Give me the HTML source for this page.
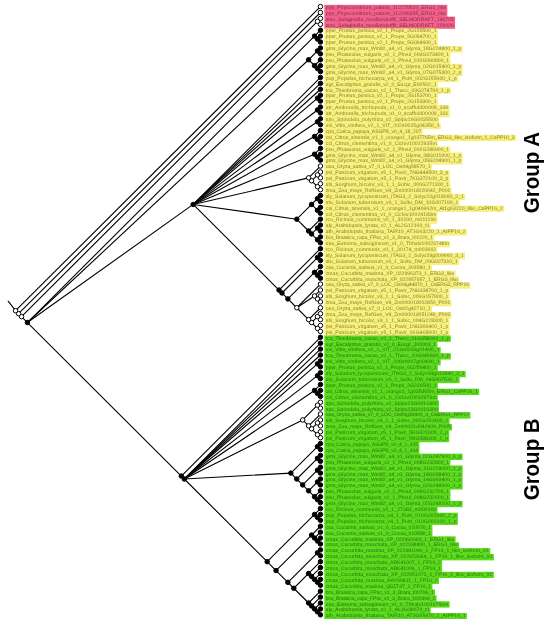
<!DOCTYPE html>
<html><head><meta charset="utf-8"><title>Phylogenetic tree</title>
<style>html,body{margin:0;padding:0;background:#fff}svg{display:block}text{font-family:"Liberation Sans",Arial,Helvetica,sans-serif}</style></head><body>
<svg width="550" height="626" viewBox="0 0 550 626">
<rect width="550" height="626" fill="#fff"/>
<g>
<rect x="324.30" y="4.80" width="123.00" height="6.31" fill="#f4608c"/>
<rect x="324.30" y="10.71" width="123.00" height="6.31" fill="#f4608c"/>
<rect x="324.30" y="16.61" width="130.80" height="6.31" fill="#f4608c"/>
<rect x="324.30" y="22.52" width="130.80" height="6.31" fill="#f4608c"/>
<rect x="324.30" y="28.42" width="113.50" height="6.31" fill="#f8f07a"/>
<rect x="324.30" y="34.33" width="113.50" height="6.31" fill="#f8f07a"/>
<rect x="324.30" y="40.23" width="113.50" height="6.31" fill="#f8f07a"/>
<rect x="324.30" y="46.14" width="138.30" height="6.31" fill="#f8f07a"/>
<rect x="324.30" y="52.05" width="126.10" height="6.31" fill="#f8f07a"/>
<rect x="324.30" y="57.95" width="126.10" height="6.31" fill="#f8f07a"/>
<rect x="324.30" y="63.86" width="138.30" height="6.31" fill="#f8f07a"/>
<rect x="324.30" y="69.76" width="138.30" height="6.31" fill="#f8f07a"/>
<rect x="324.30" y="75.67" width="133.60" height="6.31" fill="#f8f07a"/>
<rect x="324.30" y="81.58" width="113.50" height="6.31" fill="#f8f07a"/>
<rect x="324.30" y="87.48" width="126.50" height="6.31" fill="#f8f07a"/>
<rect x="324.30" y="93.39" width="113.50" height="6.31" fill="#f8f07a"/>
<rect x="324.30" y="99.29" width="113.50" height="6.31" fill="#f8f07a"/>
<rect x="324.30" y="105.20" width="125.30" height="6.31" fill="#f8f07a"/>
<rect x="324.30" y="111.10" width="125.30" height="6.31" fill="#f8f07a"/>
<rect x="324.30" y="117.01" width="114.70" height="6.31" fill="#f8f07a"/>
<rect x="324.30" y="122.92" width="116.40" height="6.31" fill="#f8f07a"/>
<rect x="324.30" y="128.82" width="98.20" height="6.31" fill="#f8f07a"/>
<rect x="324.30" y="134.73" width="191.50" height="6.31" fill="#f8f07a"/>
<rect x="324.30" y="140.63" width="113.50" height="6.31" fill="#f8f07a"/>
<rect x="324.30" y="146.54" width="126.10" height="6.31" fill="#f8f07a"/>
<rect x="324.30" y="152.44" width="138.30" height="6.31" fill="#f8f07a"/>
<rect x="324.30" y="158.35" width="138.30" height="6.31" fill="#f8f07a"/>
<rect x="324.30" y="164.26" width="107.60" height="6.31" fill="#f8f07a"/>
<rect x="324.30" y="170.16" width="125.30" height="6.31" fill="#f8f07a"/>
<rect x="324.30" y="176.07" width="125.30" height="6.31" fill="#f8f07a"/>
<rect x="324.30" y="181.97" width="126.10" height="6.31" fill="#f8f07a"/>
<rect x="324.30" y="187.88" width="127.20" height="6.31" fill="#f8f07a"/>
<rect x="324.30" y="193.78" width="140.70" height="6.31" fill="#f8f07a"/>
<rect x="324.30" y="199.69" width="135.30" height="6.31" fill="#f8f07a"/>
<rect x="324.30" y="205.60" width="179.70" height="6.31" fill="#f8f07a"/>
<rect x="324.30" y="211.50" width="113.10" height="6.31" fill="#f8f07a"/>
<rect x="324.30" y="217.41" width="113.10" height="6.31" fill="#f8f07a"/>
<rect x="324.30" y="223.31" width="106.40" height="6.31" fill="#f8f07a"/>
<rect x="324.30" y="229.22" width="142.60" height="6.31" fill="#f8f07a"/>
<rect x="324.30" y="235.13" width="110.00" height="6.31" fill="#f8f07a"/>
<rect x="324.30" y="241.03" width="125.80" height="6.31" fill="#f8f07a"/>
<rect x="324.30" y="246.94" width="113.10" height="6.31" fill="#f8f07a"/>
<rect x="324.30" y="252.84" width="140.70" height="6.31" fill="#f8f07a"/>
<rect x="324.30" y="258.75" width="134.80" height="6.31" fill="#f8f07a"/>
<rect x="324.30" y="264.65" width="107.60" height="6.31" fill="#f8f07a"/>
<rect x="324.30" y="270.56" width="131.30" height="6.31" fill="#f8f07a"/>
<rect x="324.30" y="276.47" width="134.80" height="6.31" fill="#f8f07a"/>
<rect x="324.30" y="282.37" width="145.90" height="6.31" fill="#f8f07a"/>
<rect x="324.30" y="288.28" width="125.30" height="6.31" fill="#f8f07a"/>
<rect x="324.30" y="294.18" width="125.30" height="6.31" fill="#f8f07a"/>
<rect x="324.30" y="300.09" width="127.20" height="6.31" fill="#f8f07a"/>
<rect x="324.30" y="305.99" width="107.60" height="6.31" fill="#f8f07a"/>
<rect x="324.30" y="311.90" width="127.20" height="6.31" fill="#f8f07a"/>
<rect x="324.30" y="317.81" width="125.30" height="6.31" fill="#f8f07a"/>
<rect x="324.30" y="323.71" width="125.30" height="6.31" fill="#f8f07a"/>
<rect x="324.30" y="329.62" width="125.30" height="6.31" fill="#f8f07a"/>
<rect x="324.30" y="335.52" width="126.50" height="6.31" fill="#5ada1c"/>
<rect x="324.30" y="341.43" width="113.10" height="6.31" fill="#5ada1c"/>
<rect x="324.30" y="347.33" width="116.40" height="6.31" fill="#5ada1c"/>
<rect x="324.30" y="353.24" width="126.50" height="6.31" fill="#5ada1c"/>
<rect x="324.30" y="359.15" width="116.40" height="6.31" fill="#5ada1c"/>
<rect x="324.30" y="365.05" width="113.50" height="6.31" fill="#5ada1c"/>
<rect x="324.30" y="370.96" width="141.40" height="6.31" fill="#5ada1c"/>
<rect x="324.30" y="376.86" width="135.30" height="6.31" fill="#5ada1c"/>
<rect x="324.30" y="382.77" width="113.50" height="6.31" fill="#5ada1c"/>
<rect x="324.30" y="388.68" width="154.90" height="6.31" fill="#5ada1c"/>
<rect x="324.30" y="394.58" width="113.50" height="6.31" fill="#5ada1c"/>
<rect x="324.30" y="400.49" width="114.70" height="6.31" fill="#5ada1c"/>
<rect x="324.30" y="406.39" width="114.70" height="6.31" fill="#5ada1c"/>
<rect x="324.30" y="412.30" width="146.10" height="6.31" fill="#5ada1c"/>
<rect x="324.30" y="418.20" width="125.30" height="6.31" fill="#5ada1c"/>
<rect x="324.30" y="424.11" width="127.70" height="6.31" fill="#5ada1c"/>
<rect x="324.30" y="430.02" width="124.90" height="6.31" fill="#5ada1c"/>
<rect x="324.30" y="435.92" width="124.90" height="6.31" fill="#5ada1c"/>
<rect x="324.30" y="441.83" width="95.10" height="6.31" fill="#5ada1c"/>
<rect x="324.30" y="447.73" width="95.10" height="6.31" fill="#5ada1c"/>
<rect x="324.30" y="453.64" width="138.30" height="6.31" fill="#5ada1c"/>
<rect x="324.30" y="459.54" width="126.10" height="6.31" fill="#5ada1c"/>
<rect x="324.30" y="465.45" width="138.30" height="6.31" fill="#5ada1c"/>
<rect x="324.30" y="471.36" width="138.30" height="6.31" fill="#5ada1c"/>
<rect x="324.30" y="477.26" width="138.30" height="6.31" fill="#5ada1c"/>
<rect x="324.30" y="483.17" width="138.30" height="6.31" fill="#5ada1c"/>
<rect x="324.30" y="489.07" width="126.10" height="6.31" fill="#5ada1c"/>
<rect x="324.30" y="494.98" width="126.10" height="6.31" fill="#5ada1c"/>
<rect x="324.30" y="500.88" width="138.30" height="6.31" fill="#5ada1c"/>
<rect x="324.30" y="506.79" width="113.30" height="6.31" fill="#5ada1c"/>
<rect x="324.30" y="512.70" width="133.60" height="6.31" fill="#5ada1c"/>
<rect x="324.30" y="518.60" width="133.60" height="6.31" fill="#5ada1c"/>
<rect x="324.30" y="524.51" width="108.10" height="6.31" fill="#5ada1c"/>
<rect x="324.30" y="530.41" width="108.10" height="6.31" fill="#5ada1c"/>
<rect x="324.30" y="536.32" width="131.30" height="6.31" fill="#5ada1c"/>
<rect x="324.30" y="542.23" width="134.80" height="6.31" fill="#5ada1c"/>
<rect x="324.30" y="548.13" width="166.00" height="6.31" fill="#5ada1c"/>
<rect x="324.30" y="554.04" width="169.60" height="6.31" fill="#5ada1c"/>
<rect x="324.30" y="559.94" width="117.80" height="6.31" fill="#5ada1c"/>
<rect x="324.30" y="565.85" width="117.80" height="6.31" fill="#5ada1c"/>
<rect x="324.30" y="571.75" width="169.60" height="6.31" fill="#5ada1c"/>
<rect x="324.30" y="577.66" width="114.70" height="6.31" fill="#5ada1c"/>
<rect x="324.30" y="583.57" width="108.10" height="6.31" fill="#5ada1c"/>
<rect x="324.30" y="589.47" width="110.70" height="6.31" fill="#5ada1c"/>
<rect x="324.30" y="595.38" width="112.30" height="6.31" fill="#5ada1c"/>
<rect x="324.30" y="601.28" width="125.30" height="6.31" fill="#5ada1c"/>
<rect x="324.30" y="607.19" width="106.40" height="6.31" fill="#5ada1c"/>
<rect x="324.30" y="613.09" width="142.60" height="5.91" fill="#5ada1c"/>
</g>
<g stroke="#000" stroke-width="1.10" stroke-linecap="round" fill="none">
<line x1="15.58" y1="310.71" x2="320.45" y2="6.60"/>
<line x1="15.58" y1="310.71" x2="18.54" y2="313.66"/>
<line x1="18.54" y1="313.66" x2="320.45" y2="12.50"/>
<line x1="18.54" y1="313.66" x2="21.50" y2="316.61"/>
<line x1="21.50" y1="316.61" x2="317.49" y2="21.36"/>
<line x1="317.49" y1="21.36" x2="320.45" y2="18.41"/>
<line x1="317.49" y1="21.36" x2="320.45" y2="24.31"/>
<line x1="21.50" y1="316.61" x2="27.42" y2="322.52"/>
<line x1="27.42" y1="322.52" x2="314.53" y2="36.12"/>
<line x1="314.53" y1="36.12" x2="320.45" y2="30.22"/>
<line x1="314.53" y1="36.12" x2="317.49" y2="39.08"/>
<line x1="317.49" y1="39.08" x2="320.45" y2="36.12"/>
<line x1="317.49" y1="39.08" x2="320.45" y2="42.03"/>
<line x1="27.42" y1="322.52" x2="308.61" y2="59.74"/>
<line x1="308.61" y1="59.74" x2="317.49" y2="50.89"/>
<line x1="317.49" y1="50.89" x2="320.45" y2="47.94"/>
<line x1="317.49" y1="50.89" x2="320.45" y2="53.84"/>
<line x1="308.61" y1="59.74" x2="314.53" y2="65.65"/>
<line x1="314.53" y1="65.65" x2="320.45" y2="59.75"/>
<line x1="314.53" y1="65.65" x2="317.49" y2="68.60"/>
<line x1="317.49" y1="68.60" x2="320.45" y2="65.65"/>
<line x1="317.49" y1="68.60" x2="320.45" y2="71.55"/>
<line x1="27.42" y1="322.52" x2="193.18" y2="204.42"/>
<line x1="193.18" y1="204.42" x2="320.45" y2="77.46"/>
<line x1="193.18" y1="204.42" x2="320.45" y2="83.36"/>
<line x1="193.18" y1="204.42" x2="320.45" y2="89.27"/>
<line x1="193.18" y1="204.42" x2="317.49" y2="98.13"/>
<line x1="317.49" y1="98.13" x2="320.45" y2="95.17"/>
<line x1="317.49" y1="98.13" x2="320.45" y2="101.08"/>
<line x1="193.18" y1="204.42" x2="317.49" y2="109.94"/>
<line x1="317.49" y1="109.94" x2="320.45" y2="106.98"/>
<line x1="317.49" y1="109.94" x2="320.45" y2="112.89"/>
<line x1="193.18" y1="204.42" x2="317.49" y2="121.75"/>
<line x1="317.49" y1="121.75" x2="320.45" y2="118.80"/>
<line x1="317.49" y1="121.75" x2="320.45" y2="124.70"/>
<line x1="193.18" y1="204.42" x2="314.53" y2="136.51"/>
<line x1="314.53" y1="136.51" x2="320.45" y2="130.61"/>
<line x1="314.53" y1="136.51" x2="317.49" y2="139.46"/>
<line x1="317.49" y1="139.46" x2="320.45" y2="136.51"/>
<line x1="317.49" y1="139.46" x2="320.45" y2="142.41"/>
<line x1="193.18" y1="204.42" x2="314.53" y2="154.22"/>
<line x1="314.53" y1="154.22" x2="320.45" y2="148.32"/>
<line x1="314.53" y1="154.22" x2="317.49" y2="157.18"/>
<line x1="317.49" y1="157.18" x2="320.45" y2="154.22"/>
<line x1="317.49" y1="157.18" x2="320.45" y2="160.13"/>
<line x1="193.18" y1="204.42" x2="308.61" y2="177.84"/>
<line x1="308.61" y1="177.84" x2="320.45" y2="166.03"/>
<line x1="308.61" y1="177.84" x2="311.57" y2="180.80"/>
<line x1="311.57" y1="180.80" x2="317.49" y2="174.89"/>
<line x1="317.49" y1="174.89" x2="320.45" y2="171.94"/>
<line x1="317.49" y1="174.89" x2="320.45" y2="177.84"/>
<line x1="311.57" y1="180.80" x2="317.49" y2="186.70"/>
<line x1="317.49" y1="186.70" x2="320.45" y2="183.75"/>
<line x1="317.49" y1="186.70" x2="320.45" y2="189.66"/>
<line x1="193.18" y1="204.42" x2="296.77" y2="219.18"/>
<line x1="296.77" y1="219.18" x2="311.57" y2="204.42"/>
<line x1="311.57" y1="204.42" x2="317.49" y2="198.51"/>
<line x1="317.49" y1="198.51" x2="320.45" y2="195.56"/>
<line x1="317.49" y1="198.51" x2="320.45" y2="201.47"/>
<line x1="311.57" y1="204.42" x2="317.49" y2="210.32"/>
<line x1="317.49" y1="210.32" x2="320.45" y2="207.37"/>
<line x1="317.49" y1="210.32" x2="320.45" y2="213.28"/>
<line x1="296.77" y1="219.18" x2="308.61" y2="230.99"/>
<line x1="308.61" y1="230.99" x2="320.45" y2="219.18"/>
<line x1="308.61" y1="230.99" x2="311.57" y2="233.94"/>
<line x1="311.57" y1="233.94" x2="317.49" y2="228.04"/>
<line x1="317.49" y1="228.04" x2="320.45" y2="225.09"/>
<line x1="317.49" y1="228.04" x2="320.45" y2="230.99"/>
<line x1="311.57" y1="233.94" x2="317.49" y2="239.85"/>
<line x1="317.49" y1="239.85" x2="320.45" y2="236.90"/>
<line x1="317.49" y1="239.85" x2="320.45" y2="242.80"/>
<line x1="193.18" y1="204.42" x2="279.01" y2="290.04"/>
<line x1="279.01" y1="290.04" x2="320.45" y2="248.71"/>
<line x1="279.01" y1="290.04" x2="281.97" y2="292.99"/>
<line x1="281.97" y1="292.99" x2="317.49" y2="257.56"/>
<line x1="317.49" y1="257.56" x2="320.45" y2="254.61"/>
<line x1="317.49" y1="257.56" x2="320.45" y2="260.52"/>
<line x1="281.97" y1="292.99" x2="287.89" y2="298.90"/>
<line x1="287.89" y1="298.90" x2="314.53" y2="272.33"/>
<line x1="314.53" y1="272.33" x2="320.45" y2="266.42"/>
<line x1="314.53" y1="272.33" x2="317.49" y2="275.28"/>
<line x1="317.49" y1="275.28" x2="320.45" y2="272.33"/>
<line x1="317.49" y1="275.28" x2="320.45" y2="278.23"/>
<line x1="287.89" y1="298.90" x2="296.77" y2="307.76"/>
<line x1="296.77" y1="307.76" x2="320.45" y2="284.14"/>
<line x1="296.77" y1="307.76" x2="314.53" y2="295.95"/>
<line x1="314.53" y1="295.95" x2="320.45" y2="290.04"/>
<line x1="314.53" y1="295.95" x2="317.49" y2="298.90"/>
<line x1="317.49" y1="298.90" x2="320.45" y2="295.95"/>
<line x1="317.49" y1="298.90" x2="320.45" y2="301.85"/>
<line x1="296.77" y1="307.76" x2="308.61" y2="319.57"/>
<line x1="308.61" y1="319.57" x2="320.45" y2="307.76"/>
<line x1="308.61" y1="319.57" x2="311.57" y2="322.52"/>
<line x1="311.57" y1="322.52" x2="317.49" y2="316.61"/>
<line x1="317.49" y1="316.61" x2="320.45" y2="313.66"/>
<line x1="317.49" y1="316.61" x2="320.45" y2="319.57"/>
<line x1="311.57" y1="322.52" x2="317.49" y2="328.42"/>
<line x1="317.49" y1="328.42" x2="320.45" y2="325.47"/>
<line x1="317.49" y1="328.42" x2="320.45" y2="331.38"/>
<line x1="27.42" y1="322.52" x2="181.34" y2="476.05"/>
<line x1="181.34" y1="476.05" x2="320.45" y2="337.28"/>
<line x1="181.34" y1="476.05" x2="184.30" y2="479.00"/>
<line x1="184.30" y1="479.00" x2="320.45" y2="343.19"/>
<line x1="184.30" y1="479.00" x2="320.45" y2="349.09"/>
<line x1="184.30" y1="479.00" x2="320.45" y2="355.00"/>
<line x1="184.30" y1="479.00" x2="317.49" y2="363.85"/>
<line x1="317.49" y1="363.85" x2="320.45" y2="360.90"/>
<line x1="317.49" y1="363.85" x2="320.45" y2="366.81"/>
<line x1="184.30" y1="479.00" x2="317.49" y2="375.66"/>
<line x1="317.49" y1="375.66" x2="320.45" y2="372.71"/>
<line x1="317.49" y1="375.66" x2="320.45" y2="378.62"/>
<line x1="184.30" y1="479.00" x2="314.53" y2="390.43"/>
<line x1="314.53" y1="390.43" x2="320.45" y2="384.52"/>
<line x1="314.53" y1="390.43" x2="317.49" y2="393.38"/>
<line x1="317.49" y1="393.38" x2="320.45" y2="390.43"/>
<line x1="317.49" y1="393.38" x2="320.45" y2="396.33"/>
<line x1="184.30" y1="479.00" x2="302.69" y2="419.95"/>
<line x1="302.69" y1="419.95" x2="317.49" y2="405.19"/>
<line x1="317.49" y1="405.19" x2="320.45" y2="402.24"/>
<line x1="317.49" y1="405.19" x2="320.45" y2="408.14"/>
<line x1="302.69" y1="419.95" x2="308.61" y2="425.86"/>
<line x1="308.61" y1="425.86" x2="320.45" y2="414.05"/>
<line x1="308.61" y1="425.86" x2="311.57" y2="428.81"/>
<line x1="311.57" y1="428.81" x2="317.49" y2="422.90"/>
<line x1="317.49" y1="422.90" x2="320.45" y2="419.95"/>
<line x1="317.49" y1="422.90" x2="320.45" y2="425.86"/>
<line x1="311.57" y1="428.81" x2="317.49" y2="434.71"/>
<line x1="317.49" y1="434.71" x2="320.45" y2="431.76"/>
<line x1="317.49" y1="434.71" x2="320.45" y2="437.67"/>
<line x1="184.30" y1="479.00" x2="290.85" y2="473.10"/>
<line x1="290.85" y1="473.10" x2="317.49" y2="446.52"/>
<line x1="317.49" y1="446.52" x2="320.45" y2="443.57"/>
<line x1="317.49" y1="446.52" x2="320.45" y2="449.48"/>
<line x1="290.85" y1="473.10" x2="296.77" y2="479.00"/>
<line x1="296.77" y1="479.00" x2="317.49" y2="458.33"/>
<line x1="317.49" y1="458.33" x2="320.45" y2="455.38"/>
<line x1="317.49" y1="458.33" x2="320.45" y2="461.29"/>
<line x1="296.77" y1="479.00" x2="302.69" y2="484.91"/>
<line x1="302.69" y1="484.91" x2="317.49" y2="470.14"/>
<line x1="317.49" y1="470.14" x2="320.45" y2="467.19"/>
<line x1="317.49" y1="470.14" x2="320.45" y2="473.10"/>
<line x1="302.69" y1="484.91" x2="308.61" y2="490.81"/>
<line x1="308.61" y1="490.81" x2="317.49" y2="481.95"/>
<line x1="317.49" y1="481.95" x2="320.45" y2="479.00"/>
<line x1="317.49" y1="481.95" x2="320.45" y2="484.91"/>
<line x1="308.61" y1="490.81" x2="314.53" y2="496.72"/>
<line x1="314.53" y1="496.72" x2="320.45" y2="490.81"/>
<line x1="314.53" y1="496.72" x2="317.49" y2="499.67"/>
<line x1="317.49" y1="499.67" x2="320.45" y2="496.72"/>
<line x1="317.49" y1="499.67" x2="320.45" y2="502.62"/>
<line x1="184.30" y1="479.00" x2="267.17" y2="561.67"/>
<line x1="267.17" y1="561.67" x2="314.53" y2="514.43"/>
<line x1="314.53" y1="514.43" x2="320.45" y2="508.53"/>
<line x1="314.53" y1="514.43" x2="317.49" y2="517.38"/>
<line x1="317.49" y1="517.38" x2="320.45" y2="514.43"/>
<line x1="317.49" y1="517.38" x2="320.45" y2="520.34"/>
<line x1="267.17" y1="561.67" x2="276.05" y2="570.53"/>
<line x1="276.05" y1="570.53" x2="311.57" y2="535.10"/>
<line x1="311.57" y1="535.10" x2="320.45" y2="526.24"/>
<line x1="311.57" y1="535.10" x2="314.53" y2="538.05"/>
<line x1="314.53" y1="538.05" x2="320.45" y2="532.15"/>
<line x1="314.53" y1="538.05" x2="317.49" y2="541.00"/>
<line x1="317.49" y1="541.00" x2="320.45" y2="538.05"/>
<line x1="317.49" y1="541.00" x2="320.45" y2="543.96"/>
<line x1="276.05" y1="570.53" x2="287.89" y2="582.34"/>
<line x1="287.89" y1="582.34" x2="317.49" y2="552.81"/>
<line x1="317.49" y1="552.81" x2="320.45" y2="549.86"/>
<line x1="317.49" y1="552.81" x2="320.45" y2="555.77"/>
<line x1="287.89" y1="582.34" x2="293.81" y2="588.24"/>
<line x1="293.81" y1="588.24" x2="308.61" y2="573.48"/>
<line x1="308.61" y1="573.48" x2="320.45" y2="561.67"/>
<line x1="308.61" y1="573.48" x2="311.57" y2="576.43"/>
<line x1="311.57" y1="576.43" x2="320.45" y2="567.58"/>
<line x1="311.57" y1="576.43" x2="314.53" y2="579.38"/>
<line x1="314.53" y1="579.38" x2="320.45" y2="573.48"/>
<line x1="314.53" y1="579.38" x2="317.49" y2="582.34"/>
<line x1="317.49" y1="582.34" x2="320.45" y2="579.38"/>
<line x1="317.49" y1="582.34" x2="320.45" y2="585.29"/>
<line x1="293.81" y1="588.24" x2="308.61" y2="603.01"/>
<line x1="308.61" y1="603.01" x2="320.45" y2="591.20"/>
<line x1="308.61" y1="603.01" x2="311.57" y2="605.96"/>
<line x1="311.57" y1="605.96" x2="320.45" y2="597.10"/>
<line x1="311.57" y1="605.96" x2="314.53" y2="608.91"/>
<line x1="314.53" y1="608.91" x2="320.45" y2="603.00"/>
<line x1="314.53" y1="608.91" x2="317.49" y2="611.86"/>
<line x1="317.49" y1="611.86" x2="320.45" y2="608.91"/>
<line x1="317.49" y1="611.86" x2="320.45" y2="614.82"/>
<line x1="8.18" y1="301.21" x2="15.58" y2="310.71"/>
</g>
<g stroke="#000" stroke-width="1.00">
<circle cx="320.45" cy="6.60" r="2.25" fill="#fff"/>
<circle cx="320.45" cy="12.50" r="2.25" fill="#fff"/>
<circle cx="320.45" cy="18.41" r="2.25" fill="#fff"/>
<circle cx="320.45" cy="24.31" r="2.25" fill="#fff"/>
<circle cx="317.49" cy="21.36" r="2.25" fill="#fff"/>
<circle cx="320.45" cy="30.22" r="2.25" fill="#000"/>
<circle cx="320.45" cy="36.12" r="2.25" fill="#000"/>
<circle cx="320.45" cy="42.03" r="2.25" fill="#000"/>
<circle cx="317.49" cy="39.08" r="2.25" fill="#000"/>
<circle cx="314.53" cy="36.12" r="2.25" fill="#000"/>
<circle cx="320.45" cy="47.94" r="2.25" fill="#000"/>
<circle cx="320.45" cy="53.84" r="2.25" fill="#000"/>
<circle cx="317.49" cy="50.89" r="2.25" fill="#000"/>
<circle cx="320.45" cy="59.75" r="2.25" fill="#000"/>
<circle cx="320.45" cy="65.65" r="2.25" fill="#000"/>
<circle cx="320.45" cy="71.55" r="2.25" fill="#000"/>
<circle cx="317.49" cy="68.60" r="2.25" fill="#000"/>
<circle cx="314.53" cy="65.65" r="2.25" fill="#000"/>
<circle cx="308.61" cy="59.74" r="2.25" fill="#000"/>
<circle cx="320.45" cy="77.46" r="2.25" fill="#000"/>
<circle cx="320.45" cy="83.36" r="2.25" fill="#000"/>
<circle cx="320.45" cy="89.27" r="2.25" fill="#000"/>
<circle cx="320.45" cy="95.17" r="2.25" fill="#000"/>
<circle cx="320.45" cy="101.08" r="2.25" fill="#000"/>
<circle cx="317.49" cy="98.13" r="2.25" fill="#000"/>
<circle cx="320.45" cy="106.98" r="2.25" fill="#000"/>
<circle cx="320.45" cy="112.89" r="2.25" fill="#000"/>
<circle cx="317.49" cy="109.94" r="2.25" fill="#000"/>
<circle cx="320.45" cy="118.80" r="2.25" fill="#000"/>
<circle cx="320.45" cy="124.70" r="2.25" fill="#000"/>
<circle cx="317.49" cy="121.75" r="2.25" fill="#000"/>
<circle cx="320.45" cy="130.61" r="2.25" fill="#000"/>
<circle cx="320.45" cy="136.51" r="2.25" fill="#000"/>
<circle cx="320.45" cy="142.41" r="2.25" fill="#000"/>
<circle cx="317.49" cy="139.46" r="2.25" fill="#000"/>
<circle cx="314.53" cy="136.51" r="2.25" fill="#000"/>
<circle cx="320.45" cy="148.32" r="2.25" fill="#000"/>
<circle cx="320.45" cy="154.22" r="2.25" fill="#000"/>
<circle cx="320.45" cy="160.13" r="2.25" fill="#000"/>
<circle cx="317.49" cy="157.18" r="2.25" fill="#000"/>
<circle cx="314.53" cy="154.22" r="2.25" fill="#000"/>
<circle cx="320.45" cy="166.03" r="2.25" fill="#fff"/>
<circle cx="320.45" cy="171.94" r="2.25" fill="#fff"/>
<circle cx="320.45" cy="177.84" r="2.25" fill="#fff"/>
<circle cx="317.49" cy="174.89" r="2.25" fill="#fff"/>
<circle cx="320.45" cy="183.75" r="2.25" fill="#fff"/>
<circle cx="320.45" cy="189.66" r="2.25" fill="#fff"/>
<circle cx="317.49" cy="186.70" r="2.25" fill="#fff"/>
<circle cx="311.57" cy="180.80" r="2.25" fill="#fff"/>
<circle cx="308.61" cy="177.84" r="2.25" fill="#fff"/>
<circle cx="320.45" cy="195.56" r="2.25" fill="#000"/>
<circle cx="320.45" cy="201.47" r="2.25" fill="#000"/>
<circle cx="317.49" cy="198.51" r="2.25" fill="#000"/>
<circle cx="320.45" cy="207.37" r="2.25" fill="#000"/>
<circle cx="320.45" cy="213.28" r="2.25" fill="#000"/>
<circle cx="317.49" cy="210.32" r="2.25" fill="#000"/>
<circle cx="311.57" cy="204.42" r="2.25" fill="#000"/>
<circle cx="320.45" cy="219.18" r="2.25" fill="#000"/>
<circle cx="320.45" cy="225.09" r="2.25" fill="#000"/>
<circle cx="320.45" cy="230.99" r="2.25" fill="#000"/>
<circle cx="317.49" cy="228.04" r="2.25" fill="#000"/>
<circle cx="320.45" cy="236.90" r="2.25" fill="#000"/>
<circle cx="320.45" cy="242.80" r="2.25" fill="#000"/>
<circle cx="317.49" cy="239.85" r="2.25" fill="#000"/>
<circle cx="311.57" cy="233.94" r="2.25" fill="#000"/>
<circle cx="308.61" cy="230.99" r="2.25" fill="#000"/>
<circle cx="296.77" cy="219.18" r="2.25" fill="#000"/>
<circle cx="320.45" cy="248.71" r="2.25" fill="#000"/>
<circle cx="320.45" cy="254.61" r="2.25" fill="#000"/>
<circle cx="320.45" cy="260.52" r="2.25" fill="#000"/>
<circle cx="317.49" cy="257.56" r="2.25" fill="#000"/>
<circle cx="320.45" cy="266.42" r="2.25" fill="#000"/>
<circle cx="320.45" cy="272.33" r="2.25" fill="#000"/>
<circle cx="320.45" cy="278.23" r="2.25" fill="#000"/>
<circle cx="317.49" cy="275.28" r="2.25" fill="#000"/>
<circle cx="314.53" cy="272.33" r="2.25" fill="#000"/>
<circle cx="320.45" cy="284.14" r="2.25" fill="#fff"/>
<circle cx="320.45" cy="290.04" r="2.25" fill="#fff"/>
<circle cx="320.45" cy="295.95" r="2.25" fill="#fff"/>
<circle cx="320.45" cy="301.85" r="2.25" fill="#fff"/>
<circle cx="317.49" cy="298.90" r="2.25" fill="#fff"/>
<circle cx="314.53" cy="295.95" r="2.25" fill="#fff"/>
<circle cx="320.45" cy="307.76" r="2.25" fill="#fff"/>
<circle cx="320.45" cy="313.66" r="2.25" fill="#fff"/>
<circle cx="320.45" cy="319.57" r="2.25" fill="#fff"/>
<circle cx="317.49" cy="316.61" r="2.25" fill="#fff"/>
<circle cx="320.45" cy="325.47" r="2.25" fill="#fff"/>
<circle cx="320.45" cy="331.38" r="2.25" fill="#fff"/>
<circle cx="317.49" cy="328.42" r="2.25" fill="#fff"/>
<circle cx="311.57" cy="322.52" r="2.25" fill="#fff"/>
<circle cx="308.61" cy="319.57" r="2.25" fill="#fff"/>
<circle cx="296.77" cy="307.76" r="2.25" fill="#fff"/>
<circle cx="287.89" cy="298.90" r="2.25" fill="#000"/>
<circle cx="281.97" cy="292.99" r="2.25" fill="#000"/>
<circle cx="279.01" cy="290.04" r="2.25" fill="#000"/>
<circle cx="193.18" cy="204.42" r="2.25" fill="#000"/>
<circle cx="320.45" cy="337.28" r="2.25" fill="#000"/>
<circle cx="320.45" cy="343.19" r="2.25" fill="#000"/>
<circle cx="320.45" cy="349.09" r="2.25" fill="#000"/>
<circle cx="320.45" cy="355.00" r="2.25" fill="#000"/>
<circle cx="320.45" cy="360.90" r="2.25" fill="#000"/>
<circle cx="320.45" cy="366.81" r="2.25" fill="#000"/>
<circle cx="317.49" cy="363.85" r="2.25" fill="#000"/>
<circle cx="320.45" cy="372.71" r="2.25" fill="#000"/>
<circle cx="320.45" cy="378.62" r="2.25" fill="#000"/>
<circle cx="317.49" cy="375.66" r="2.25" fill="#000"/>
<circle cx="320.45" cy="384.52" r="2.25" fill="#000"/>
<circle cx="320.45" cy="390.43" r="2.25" fill="#000"/>
<circle cx="320.45" cy="396.33" r="2.25" fill="#000"/>
<circle cx="317.49" cy="393.38" r="2.25" fill="#000"/>
<circle cx="314.53" cy="390.43" r="2.25" fill="#000"/>
<circle cx="320.45" cy="402.24" r="2.25" fill="#fff"/>
<circle cx="320.45" cy="408.14" r="2.25" fill="#fff"/>
<circle cx="317.49" cy="405.19" r="2.25" fill="#fff"/>
<circle cx="320.45" cy="414.05" r="2.25" fill="#fff"/>
<circle cx="320.45" cy="419.95" r="2.25" fill="#fff"/>
<circle cx="320.45" cy="425.86" r="2.25" fill="#fff"/>
<circle cx="317.49" cy="422.90" r="2.25" fill="#fff"/>
<circle cx="320.45" cy="431.76" r="2.25" fill="#fff"/>
<circle cx="320.45" cy="437.67" r="2.25" fill="#fff"/>
<circle cx="317.49" cy="434.71" r="2.25" fill="#fff"/>
<circle cx="311.57" cy="428.81" r="2.25" fill="#fff"/>
<circle cx="308.61" cy="425.86" r="2.25" fill="#fff"/>
<circle cx="302.69" cy="419.95" r="2.25" fill="#fff"/>
<circle cx="320.45" cy="443.57" r="2.25" fill="#000"/>
<circle cx="320.45" cy="449.48" r="2.25" fill="#000"/>
<circle cx="317.49" cy="446.52" r="2.25" fill="#000"/>
<circle cx="320.45" cy="455.38" r="2.25" fill="#000"/>
<circle cx="320.45" cy="461.29" r="2.25" fill="#000"/>
<circle cx="317.49" cy="458.33" r="2.25" fill="#000"/>
<circle cx="320.45" cy="467.19" r="2.25" fill="#000"/>
<circle cx="320.45" cy="473.10" r="2.25" fill="#000"/>
<circle cx="317.49" cy="470.14" r="2.25" fill="#000"/>
<circle cx="320.45" cy="479.00" r="2.25" fill="#000"/>
<circle cx="320.45" cy="484.91" r="2.25" fill="#000"/>
<circle cx="317.49" cy="481.95" r="2.25" fill="#000"/>
<circle cx="320.45" cy="490.81" r="2.25" fill="#000"/>
<circle cx="320.45" cy="496.72" r="2.25" fill="#000"/>
<circle cx="320.45" cy="502.62" r="2.25" fill="#000"/>
<circle cx="317.49" cy="499.67" r="2.25" fill="#000"/>
<circle cx="314.53" cy="496.72" r="2.25" fill="#000"/>
<circle cx="308.61" cy="490.81" r="2.25" fill="#000"/>
<circle cx="302.69" cy="484.91" r="2.25" fill="#000"/>
<circle cx="296.77" cy="479.00" r="2.25" fill="#000"/>
<circle cx="290.85" cy="473.10" r="2.25" fill="#000"/>
<circle cx="320.45" cy="508.53" r="2.25" fill="#000"/>
<circle cx="320.45" cy="514.43" r="2.25" fill="#000"/>
<circle cx="320.45" cy="520.34" r="2.25" fill="#000"/>
<circle cx="317.49" cy="517.38" r="2.25" fill="#000"/>
<circle cx="314.53" cy="514.43" r="2.25" fill="#000"/>
<circle cx="320.45" cy="526.24" r="2.25" fill="#000"/>
<circle cx="320.45" cy="532.15" r="2.25" fill="#000"/>
<circle cx="320.45" cy="538.05" r="2.25" fill="#000"/>
<circle cx="320.45" cy="543.96" r="2.25" fill="#000"/>
<circle cx="317.49" cy="541.00" r="2.25" fill="#000"/>
<circle cx="314.53" cy="538.05" r="2.25" fill="#000"/>
<circle cx="311.57" cy="535.10" r="2.25" fill="#000"/>
<circle cx="320.45" cy="549.86" r="2.25" fill="#000"/>
<circle cx="320.45" cy="555.77" r="2.25" fill="#000"/>
<circle cx="317.49" cy="552.81" r="2.25" fill="#000"/>
<circle cx="320.45" cy="561.67" r="2.25" fill="#000"/>
<circle cx="320.45" cy="567.58" r="2.25" fill="#000"/>
<circle cx="320.45" cy="573.48" r="2.25" fill="#000"/>
<circle cx="320.45" cy="579.38" r="2.25" fill="#000"/>
<circle cx="320.45" cy="585.29" r="2.25" fill="#000"/>
<circle cx="317.49" cy="582.34" r="2.25" fill="#000"/>
<circle cx="314.53" cy="579.38" r="2.25" fill="#000"/>
<circle cx="311.57" cy="576.43" r="2.25" fill="#000"/>
<circle cx="308.61" cy="573.48" r="2.25" fill="#000"/>
<circle cx="320.45" cy="591.20" r="2.25" fill="#000"/>
<circle cx="320.45" cy="597.10" r="2.25" fill="#000"/>
<circle cx="320.45" cy="603.00" r="2.25" fill="#000"/>
<circle cx="320.45" cy="608.91" r="2.25" fill="#000"/>
<circle cx="320.45" cy="614.82" r="2.25" fill="#000"/>
<circle cx="317.49" cy="611.86" r="2.25" fill="#000"/>
<circle cx="314.53" cy="608.91" r="2.25" fill="#000"/>
<circle cx="311.57" cy="605.96" r="2.25" fill="#000"/>
<circle cx="308.61" cy="603.01" r="2.25" fill="#000"/>
<circle cx="293.81" cy="588.24" r="2.25" fill="#000"/>
<circle cx="287.89" cy="582.34" r="2.25" fill="#000"/>
<circle cx="276.05" cy="570.53" r="2.25" fill="#000"/>
<circle cx="267.17" cy="561.67" r="2.25" fill="#000"/>
<circle cx="184.30" cy="479.00" r="2.25" fill="#000"/>
<circle cx="181.34" cy="476.05" r="2.25" fill="#000"/>
<circle cx="27.42" cy="322.52" r="2.25" fill="#000"/>
<circle cx="21.50" cy="316.61" r="2.25" fill="#fff"/>
<circle cx="18.54" cy="313.66" r="2.25" fill="#fff"/>
<circle cx="15.58" cy="310.71" r="2.25" fill="#fff"/>
</g>
<g font-size="5.07" fill="#000" fill-opacity="0.5" text-rendering="geometricPrecision">
<text x="325.80" y="8.80" textLength="120.30">ppp_Physcomitrium_patens_112279520_ERG1_like</text>
<text x="325.80" y="14.71" textLength="120.30">ppp_Physcomitrium_patens_112289355_ERG3_like</text>
<text x="325.80" y="20.62" textLength="128.10">smo_Selaginella_moellendorffii_SELMODRAFT_146705</text>
<text x="325.80" y="26.52" textLength="128.10">smo_Selaginella_moellendorffii_SELMODRAFT_229026</text>
<text x="325.80" y="32.43" textLength="110.80">pper_Prunus_persica_v2_1_Prupe_2G155500_1</text>
<text x="325.80" y="38.34" textLength="110.80">pper_Prunus_persica_v2_1_Prupe_5G094700_1</text>
<text x="325.80" y="44.25" textLength="110.80">pper_Prunus_persica_v2_1_Prupe_5G094600_1</text>
<text x="325.80" y="50.16" textLength="135.60">gmx_Glycine_max_Wm82_a4_v1_Glyma_18G224800_1_p</text>
<text x="325.80" y="56.06" textLength="123.40">pvu_Phaseolus_vulgaris_v2_1_Phvul_003G073400_1</text>
<text x="325.80" y="61.97" textLength="123.40">pvu_Phaseolus_vulgaris_v2_1_Phvul_010G090800_1</text>
<text x="325.80" y="67.88" textLength="135.60">gmx_Glycine_max_Wm82_a4_v1_Glyma_02G015400_1_p</text>
<text x="325.80" y="73.79" textLength="135.60">gmx_Glycine_max_Wm82_a4_v1_Glyma_07G075300_2_p</text>
<text x="325.80" y="79.70" textLength="130.90">pop_Populus_trichocarpa_v4_1_Potri_002G155600_1_p</text>
<text x="325.80" y="85.60" textLength="110.80">egr_Eucalyptus_grandis_v2_0_Eucgr_E00562_1</text>
<text x="325.80" y="91.51" textLength="123.80">tca_Theobroma_cacao_v2_1_Thecc_03G274700_1_p</text>
<text x="325.80" y="97.42" textLength="110.80">pper_Prunus_persica_v2_1_Prupe_2G153700_1</text>
<text x="325.80" y="103.33" textLength="110.80">pper_Prunus_persica_v2_1_Prupe_2G153300_1</text>
<text x="325.80" y="109.24" textLength="122.60">atr_Amborella_trichopoda_v1_0_scaffold00009_330</text>
<text x="325.80" y="115.14" textLength="122.60">atr_Amborella_trichopoda_v1_0_scaffold00009_331</text>
<text x="325.80" y="121.05" textLength="112.00">spo_Spirodela_polyrhiza_v2_Spipo16G0035500</text>
<text x="325.80" y="126.96" textLength="113.70">vvi_Vitis_vinifera_v2_1_VIT_202s0025g04350_1</text>
<text x="325.80" y="132.87" textLength="95.50">cpa_Carica_papaya_ASGPB_v0_4_18_207</text>
<text x="325.80" y="138.78" textLength="188.80">csi_Citrus_sinensis_v1_1_orange1_1g037765m_ERG3_like_isoform_1_CsPP16_3</text>
<text x="325.80" y="144.68" textLength="110.80">ccl_Citrus_clementina_v1_0_Ciclev10022935m</text>
<text x="325.80" y="150.59" textLength="123.40">pvu_Phaseolus_vulgaris_v2_1_Phvul_002G286900_1</text>
<text x="325.80" y="156.50" textLength="135.60">gmx_Glycine_max_Wm82_a4_v1_Glyma_08G011900_1_p</text>
<text x="325.80" y="162.41" textLength="135.60">gmx_Glycine_max_Wm82_a4_v1_Glyma_05G204900_1_p</text>
<text x="325.80" y="168.32" textLength="104.90">osa_Oryza_sativa_v7_0_LOC_Os04g58570_1</text>
<text x="325.80" y="174.22" textLength="122.60">pvi_Panicum_virgatum_v5_1_Pavir_7NG444500_3_p</text>
<text x="325.80" y="180.13" textLength="122.60">pvi_Panicum_virgatum_v5_1_Pavir_7KG372100_3_p</text>
<text x="325.80" y="186.04" textLength="123.40">sbi_Sorghum_bicolor_v3_1_1_Sobic_006G271300_1</text>
<text x="325.80" y="191.95" textLength="124.50">zma_Zea_mays_RefGen_V4_Zm00001d026642_P001</text>
<text x="325.80" y="197.86" textLength="138.00">sly_Solanum_lycopersicum_ITAG3_2_Solyc10g018060_2_1</text>
<text x="325.80" y="203.76" textLength="132.60">stu_Solanum_tuberosum_v6_1_Soltu_DM_10G007190_1</text>
<text x="325.80" y="209.67" textLength="177.00">csi_Citrus_sinensis_v1_1_orange1_1g046962m_At1g63220_like_CsPP16_2</text>
<text x="325.80" y="215.58" textLength="110.40">ccl_Citrus_clementina_v1_0_Ciclev10024183m</text>
<text x="325.80" y="221.49" textLength="110.40">rco_Ricinus_communis_v0_1_30190_m011166</text>
<text x="325.80" y="227.40" textLength="103.70">aly_Arabidopsis_lyrata_v2_1_AL2G12160_t1</text>
<text x="325.80" y="233.30" textLength="139.90">ath_Arabidopsis_thaliana_TAIR10_AT1G63220_1_AtPP16_2</text>
<text x="325.80" y="239.21" textLength="107.30">bra_Brassica_rapa_FPsc_v1_3_Brara_I01220_1</text>
<text x="325.80" y="245.12" textLength="123.10">esa_Eutrema_salsugineum_v1_0_Thhalv10023748m</text>
<text x="325.80" y="251.03" textLength="110.40">rco_Ricinus_communis_v0_1_30174_m003662</text>
<text x="325.80" y="256.94" textLength="138.00">sly_Solanum_lycopersicum_ITAG3_2_Solyc09g009660_3_1</text>
<text x="325.80" y="262.84" textLength="132.10">stu_Solanum_tuberosum_v6_1_Soltu_DM_09G027310_1</text>
<text x="325.80" y="268.75" textLength="104.90">csa_Cucumis_sativus_v1_0_Cucsa_303580_1</text>
<text x="325.80" y="274.66" textLength="128.60">cmax_Cucurbita_maxima_XP_022996373_1_ERG3_like</text>
<text x="325.80" y="280.57" textLength="132.10">cmos_Cucurbita_moschata_XP_022957957_1_ERG3_like</text>
<text x="325.80" y="286.48" textLength="143.20">osa_Oryza_sativa_v7_0_LOC_Os04g44870_1_OsERG3_RPP16</text>
<text x="325.80" y="292.38" textLength="122.60">pvi_Panicum_virgatum_v5_1_Pavir_7NG338700_1_p</text>
<text x="325.80" y="298.29" textLength="122.60">sbi_Sorghum_bicolor_v3_1_1_Sobic_006G157900_1</text>
<text x="325.80" y="304.20" textLength="124.50">zma_Zea_mays_RefGen_V4_Zm00001d002850_P001</text>
<text x="325.80" y="310.11" textLength="104.90">osa_Oryza_sativa_v7_0_LOC_Os02g42710_1</text>
<text x="325.80" y="316.02" textLength="124.50">zma_Zea_mays_RefGen_V4_Zm00001d051249_P003</text>
<text x="325.80" y="321.92" textLength="122.60">sbi_Sorghum_bicolor_v3_1_1_Sobic_004G228300_1</text>
<text x="325.80" y="327.83" textLength="122.60">pvi_Panicum_virgatum_v5_1_Pavir_1NG366400_1_p</text>
<text x="325.80" y="333.74" textLength="122.60">pvi_Panicum_virgatum_v5_1_Pavir_1KG403900_1_p</text>
<text x="325.80" y="339.65" textLength="123.80">tca_Theobroma_cacao_v2_1_Thecc_01G358000_1_p</text>
<text x="325.80" y="345.56" textLength="110.40">egr_Eucalyptus_grandis_v2_0_Eucgr_J00003_1</text>
<text x="325.80" y="351.46" textLength="113.70">vvi_Vitis_vinifera_v2_1_VIT_213s0019g01490_1</text>
<text x="325.80" y="357.37" textLength="123.80">tca_Theobroma_cacao_v2_1_Thecc_10G046600_1_p</text>
<text x="325.80" y="363.28" textLength="113.70">vvi_Vitis_vinifera_v2_1_VIT_206s0007g00430_1</text>
<text x="325.80" y="369.19" textLength="110.80">pper_Prunus_persica_v2_1_Prupe_6G256400_1</text>
<text x="325.80" y="375.10" textLength="138.70">sly_Solanum_lycopersicum_ITAG3_2_Solyc04g011840_3_1</text>
<text x="325.80" y="381.00" textLength="132.60">stu_Solanum_tuberosum_v6_1_Soltu_DM_04G007530_1</text>
<text x="325.80" y="386.91" textLength="110.80">pper_Prunus_persica_v2_1_Prupe_2G236500_1</text>
<text x="325.80" y="392.82" textLength="152.20">csi_Citrus_sinensis_v1_1_orange1_1g035365m_ERG1_CsPP16_1</text>
<text x="325.80" y="398.73" textLength="110.80">ccl_Citrus_clementina_v1_0_Ciclev10032979m</text>
<text x="325.80" y="404.64" textLength="112.00">spo_Spirodela_polyrhiza_v2_Spipo23G0016400</text>
<text x="325.80" y="410.54" textLength="112.00">spo_Spirodela_polyrhiza_v2_Spipo23G0016300</text>
<text x="325.80" y="416.45" textLength="143.40">osa_Oryza_sativa_v7_0_LOC_Os09g39400_3_OsERG1_RPP17</text>
<text x="325.80" y="422.36" textLength="122.60">sbi_Sorghum_bicolor_v3_1_1_Sobic_002G252400_1</text>
<text x="325.80" y="428.27" textLength="125.00">zma_Zea_mays_RefGen_V4_Zm00001d042909_P005</text>
<text x="325.80" y="434.18" textLength="122.20">pvi_Panicum_virgatum_v5_1_Pavir_5KG621600_2_p</text>
<text x="325.80" y="440.08" textLength="122.20">pvi_Panicum_virgatum_v5_1_Pavir_5NG588300_1_p</text>
<text x="325.80" y="445.99" textLength="92.40">cpa_Carica_papaya_ASGPB_v0_4_1_415</text>
<text x="325.80" y="451.90" textLength="92.40">cpa_Carica_papaya_ASGPB_v0_4_1_414</text>
<text x="325.80" y="457.81" textLength="135.60">gmx_Glycine_max_Wm82_a4_v1_Glyma_02G247900_3_p</text>
<text x="325.80" y="463.72" textLength="123.40">pvu_Phaseolus_vulgaris_v2_1_Phvul_008G232800_1</text>
<text x="325.80" y="469.62" textLength="135.60">gmx_Glycine_max_Wm82_a4_v1_Glyma_11G219000_1_p</text>
<text x="325.80" y="475.53" textLength="135.60">gmx_Glycine_max_Wm82_a4_v1_Glyma_18G038400_1_p</text>
<text x="325.80" y="481.44" textLength="135.60">gmx_Glycine_max_Wm82_a4_v1_Glyma_14G069400_1_p</text>
<text x="325.80" y="487.35" textLength="135.60">gmx_Glycine_max_Wm82_a4_v1_Glyma_02G248000_1_p</text>
<text x="325.80" y="493.26" textLength="123.40">pvu_Phaseolus_vulgaris_v2_1_Phvul_008G232700_1</text>
<text x="325.80" y="499.16" textLength="123.40">pvu_Phaseolus_vulgaris_v2_1_Phvul_008G232600_1</text>
<text x="325.80" y="505.07" textLength="135.60">gmx_Glycine_max_Wm82_a4_v1_Glyma_02G248100_1_p</text>
<text x="325.80" y="510.98" textLength="110.60">rco_Ricinus_communis_v0_1_27383_m000160</text>
<text x="325.80" y="516.89" textLength="130.90">pop_Populus_trichocarpa_v4_1_Potri_010G202000_2_p</text>
<text x="325.80" y="522.80" textLength="130.90">pop_Populus_trichocarpa_v4_1_Potri_010G202100_1_p</text>
<text x="325.80" y="528.70" textLength="105.40">csa_Cucumis_sativus_v1_0_Cucsa_010570_1</text>
<text x="325.80" y="534.61" textLength="105.40">csa_Cucumis_sativus_v1_0_Cucsa_010580_1</text>
<text x="325.80" y="540.52" textLength="128.60">cmax_Cucurbita_maxima_XP_022992693_1_ERG1_like</text>
<text x="325.80" y="546.43" textLength="132.10">cmos_Cucurbita_moschata_XP_022938800_1_ERG1_like</text>
<text x="325.80" y="552.34" textLength="163.30">cmax_Cucurbita_maxima_XP_022981040_1_FP16_1_like_isoform_X1</text>
<text x="325.80" y="558.24" textLength="166.90">cmos_Cucurbita_moschata_XP_022953694_1_FP16_1_like_isoform_X1</text>
<text x="325.80" y="564.15" textLength="115.10">cmos_Cucurbita_moschata_ABK41007_1_FP16_2</text>
<text x="325.80" y="570.06" textLength="115.10">cmos_Cucurbita_moschata_ABK41006_1_FP16_1</text>
<text x="325.80" y="575.97" textLength="166.90">cmos_Cucurbita_moschata_XP_022951673_1_FP16_2_like_isoform_X2</text>
<text x="325.80" y="581.88" textLength="112.00">cmax_Cucurbita_maxima_AAY96411_1_FP16_2</text>
<text x="325.80" y="587.78" textLength="105.40">cmax_Cucurbita_maxima_Q9ZT47_2_FP16_1</text>
<text x="325.80" y="593.69" textLength="108.00">bra_Brassica_rapa_FPsc_v1_3_Brara_I00796_1</text>
<text x="325.80" y="599.60" textLength="109.60">bra_Brassica_rapa_FPsc_v1_3_Brara_D00394_1</text>
<text x="325.80" y="605.51" textLength="122.60">esa_Eutrema_salsugineum_v1_0_Thhalv10010756m</text>
<text x="325.80" y="611.42" textLength="103.70">aly_Arabidopsis_lyrata_v2_1_AL3G38670_t1</text>
<text x="325.80" y="617.32" textLength="139.90">ath_Arabidopsis_thaliana_TAIR10_AT3G55470_2_AtPP16_1</text>
</g>
<g font-size="21.4" font-weight="bold" fill="#000">
<text transform="translate(538.9,213.2) rotate(-90) scale(0.958,1)">Group A</text>
<text transform="translate(538.9,500.3) rotate(-90) scale(0.958,1)">Group B</text>
</g>
</svg></body></html>
